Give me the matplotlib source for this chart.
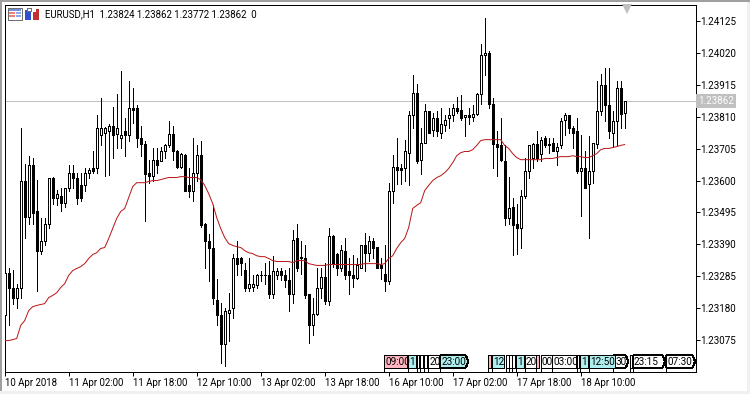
import matplotlib
matplotlib.use('Agg')
from matplotlib import pyplot as plt
from matplotlib.patches import Rectangle, Polygon

# prices in points (1.23824 -> 123824), one per H1 bar
opens = [123155, 123296, 123247, 123214, 123247, 123597, 123481, 123650, 123498, 123369, 123399, 123458, 123607, 123541, 123550, 123527,
         123574, 123626, 123610, 123584, 123584, 123626, 123640, 123640, 123752, 123758, 123765, 123781, 123755, 123742, 123765, 123752,
         123841, 123841, 123742, 123722, 123626, 123616, 123669, 123666, 123699, 123716, 123755, 123699, 123646, 123686, 123584, 123564,
         123626, 123686, 123458, 123399, 123376, 123207, 123155, 123062, 123164, 123178, 123343, 123343, 123306, 123244, 123250, 123254,
         123290, 123290, 123287, 123227, 123290, 123300, 123290, 123273, 123227, 123409, 123349, 123346, 123227, 123122, 123161, 123244,
         123283, 123204, 123418, 123359, 123313, 123369, 123303, 123290, 123280, 123313, 123389, 123362, 123402, 123382, 123320, 123293,
         123267, 123564, 123646, 123643, 123643, 123692, 123815, 123890, 123669, 123725, 123828, 123768, 123808, 123758, 123785, 123805,
         123818, 123838, 123834, 123811, 123815, 123811, 123821, 123887, 124016, 124022, 123854, 123722, 123716, 123666, 123475, 123514,
         123458, 123445, 123550, 123630, 123676, 123722, 123689, 123739, 123722, 123725, 123699, 123716, 123801, 123818, 123775, 123765,
         123630, 123640, 123590, 123633, 123722, 123828, 123917, 123851, 123758, 123798, 123904, 123824]
highs = [123303, 123310, 123306, 123260, 123775, 123656, 123682, 123673, 123603, 123478, 123475, 123610, 123613, 123570, 123577, 123577,
         123650, 123653, 123626, 123626, 123640, 123643, 123699, 123815, 123874, 123778, 123788, 123844, 123887, 123963, 123805, 123930,
         123907, 123851, 123781, 123732, 123669, 123709, 123706, 123712, 123722, 123798, 123781, 123702, 123692, 123689, 123640, 123739,
         123719, 123732, 123461, 123425, 123518, 123276, 123197, 123178, 123230, 123359, 123402, 123349, 123329, 123343, 123287, 123293,
         123300, 123329, 123336, 123352, 123310, 123310, 123306, 123310, 123438, 123458, 123399, 123389, 123227, 123211, 123310, 123313,
         123329, 123442, 123422, 123362, 123386, 123409, 123343, 123356, 123343, 123389, 123428, 123418, 123409, 123382, 123343, 123386,
         123593, 123686, 123739, 123656, 123735, 123831, 123947, 123920, 123772, 123854, 123831, 123824, 123828, 123841, 123815, 123841,
         123854, 123877, 123881, 123815, 123841, 123848, 123890, 124052, 124138, 124029, 123871, 123765, 123808, 123716, 123613, 123544,
         123524, 123570, 123673, 123719, 123725, 123765, 123745, 123748, 123739, 123742, 123725, 123808, 123824, 123818, 123781, 123808,
         123752, 123699, 123748, 123725, 123927, 123953, 123973, 123973, 123828, 123930, 123930, 123862]
lows = [123131, 123122, 123194, 123181, 123211, 123409, 123458, 123458, 123237, 123359, 123386, 123442, 123524, 123518, 123498, 123514,
        123567, 123577, 123524, 123534, 123567, 123610, 123626, 123626, 123716, 123616, 123620, 123676, 123706, 123706, 123682, 123732,
        123791, 123712, 123682, 123465, 123593, 123600, 123626, 123663, 123673, 123712, 123669, 123643, 123643, 123567, 123547, 123531,
        123600, 123448, 123310, 123270, 123194, 123122, 122999, 122989, 123072, 123148, 123287, 123290, 123237, 123237, 123234, 123247,
        123267, 123260, 123214, 123214, 123276, 123273, 123250, 123171, 123197, 123303, 123293, 123214, 123065, 123089, 123155, 123211,
        123194, 123188, 123316, 123287, 123303, 123276, 123227, 123250, 123276, 123310, 123303, 123336, 123343, 123310, 123276, 123237,
        123260, 123527, 123590, 123590, 123600, 123584, 123772, 123659, 123623, 123725, 123758, 123748, 123748, 123742, 123765, 123772,
        123798, 123824, 123801, 123748, 123788, 123798, 123815, 123854, 123947, 123838, 123643, 123616, 123666, 123452, 123458, 123356,
        123359, 123379, 123544, 123607, 123643, 123666, 123663, 123712, 123692, 123696, 123650, 123709, 123752, 123758, 123706, 123626,
        123484, 123577, 123412, 123593, 123709, 123815, 123798, 123742, 123712, 123719, 123772, 123772]
closes = [123296, 123244, 123214, 123247, 123600, 123481, 123650, 123494, 123369, 123402, 123458, 123607, 123541, 123557, 123527, 123574,
          123626, 123607, 123541, 123541, 123626, 123636, 123633, 123772, 123775, 123772, 123781, 123752, 123772, 123752, 123752, 123838,
          123834, 123742, 123722, 123623, 123616, 123669, 123653, 123699, 123719, 123755, 123699, 123646, 123689, 123567, 123564, 123626,
          123686, 123455, 123399, 123376, 123211, 123155, 123062, 123168, 123174, 123343, 123326, 123329, 123244, 123260, 123260, 123287,
          123287, 123287, 123227, 123300, 123300, 123287, 123273, 123227, 123405, 123310, 123343, 123221, 123122, 123161, 123244, 123283,
          123204, 123418, 123329, 123313, 123372, 123287, 123287, 123280, 123320, 123389, 123362, 123402, 123379, 123310, 123310, 123267,
          123567, 123646, 123636, 123636, 123696, 123815, 123890, 123666, 123725, 123828, 123758, 123808, 123765, 123788, 123801, 123815,
          123841, 123831, 123808, 123815, 123811, 123821, 123887, 124016, 124022, 123854, 123722, 123712, 123669, 123475, 123511, 123455,
          123445, 123550, 123630, 123716, 123722, 123676, 123735, 123719, 123719, 123699, 123712, 123798, 123818, 123775, 123758, 123630,
          123640, 123577, 123633, 123725, 123828, 123917, 123851, 123765, 123798, 123904, 123821, 123862]
# red moving average
ma = [123072, 123072, 123075, 123079, 123122, 123138, 123171, 123184, 123188, 123191, 123194, 123214, 123221, 123230, 123247, 123260,
      123287, 123303, 123310, 123316, 123326, 123343, 123356, 123362, 123376, 123379, 123409, 123442, 123475, 123498, 123508, 123544,
      123580, 123593, 123593, 123593, 123597, 123600, 123600, 123603, 123607, 123610, 123610, 123610, 123613, 123613, 123610, 123610,
      123610, 123603, 123584, 123557, 123524, 123478, 123442, 123412, 123392, 123386, 123382, 123379, 123369, 123362, 123359, 123352,
      123349, 123349, 123343, 123336, 123333, 123333, 123333, 123333, 123329, 123336, 123336, 123336, 123326, 123323, 123320, 123320,
      123320, 123323, 123323, 123323, 123323, 123323, 123323, 123323, 123323, 123323, 123326, 123326, 123326, 123326, 123323, 123326,
      123343, 123352, 123376, 123395, 123409, 123445, 123508, 123518, 123527, 123567, 123584, 123600, 123610, 123616, 123626, 123640,
      123659, 123682, 123692, 123696, 123696, 123702, 123716, 123732, 123735, 123735, 123735, 123735, 123735, 123716, 123706, 123689,
      123676, 123669, 123669, 123669, 123669, 123669, 123669, 123673, 123673, 123673, 123676, 123679, 123679, 123679, 123682, 123679,
      123679, 123676, 123676, 123682, 123689, 123702, 123706, 123706, 123709, 123712, 123716, 123719]

last_price = 123862
header = 'EURUSD,H1  1.23824 1.23862 1.23772 1.23862  0'

y_ticks = [124125, 124020, 123915, 123810, 123705, 123600, 123495, 123390, 123285, 123180, 123075]
x_tick_bars = [0, 16, 32, 48, 64, 80, 96, 112, 128, 144]
x_tick_labels = ['10 Apr 2018', '11 Apr 02:00', '11 Apr 18:00', '12 Apr 10:00', '13 Apr 02:00',
                 '13 Apr 18:00', '16 Apr 10:00', '17 Apr 02:00', '17 Apr 18:00', '18 Apr 10:00']

# trade flags along the bottom: first bar, last bar, colour key, text, arrow end
flag_start = [94.9, 100.9, 103.1, 103.9, 104.9, 105.9, 108.9, 120.9, 121.9, 125.4, 126.1, 126.9, 127.9, 130.1, 132.9,
              134.1, 136.9, 143.1, 143.9, 152.1, 146.1, 156.4, 157.1, 165.4]
flag_end = [100.6, 102.9, 103.6, 104.6, 105.6, 108.9, 115.9, 121.6, 124.9, 126.1, 126.9, 127.6, 129.9, 132.9, 133.6,
            136.9, 142.9, 143.6, 145.9, 155.9, 152.6, 157.1, 165.1, 172.6]
flag_kind = ['p', 'c', 'w', 'w', 'w', 'w', 'c', 'p', 'c', 'w', 'w', 'w', 'c', 'w', 'p',
             'w', 'w', 'w', 'c', 'w', 'c', 'w', 'w', 'w']
flag_text = ['09:00', '1', '', '', '', '20', '23:00', '', '12', '', '', '', '1', '20', '',
             '00', '03:00', '', '1', '30', '12:50', '', '23:15', '07:30']
flag_arrow = [0, 0, 0, 0, 0, 0, 1, 0, 0, 0, 0, 0, 0, 0, 0,
              0, 0, 0, 0, 1, 0, 0, 1, 1]
flag_colors = {'p': '#ffb6c1', 'c': '#afeeee', 'w': '#ffffff'}

plt.rcParams['font.family'] = ['Roboto', 'DejaVu Sans']
plt.rcParams['font.size'] = 7.1

W, H = 750, 394
fig = plt.figure(figsize=(W / 100, H / 100), dpi=100, facecolor='white')
ax = fig.add_axes([4.5 / W, 1 - 371.5 / H, 691 / W, 367 / H])

bars = list(range(len(opens)))
top_price = 124181
bottom_price = 122970
ax.set_xlim(-0.05, 172.7)
ax.set_ylim(bottom_price, top_price)

lw = 0.72
ax.axhline(last_price, color='#c0c0c0', lw=lw, zorder=1, antialiased=False)

ax.vlines(bars, lows, highs, color='black', lw=lw, zorder=2, antialiased=False)
for x, o, c in zip(bars, opens, closes):
    ax.add_patch(Rectangle((x - 0.25, min(o, c)), 0.5, max(abs(c - o), 1),
                           facecolor='white' if c >= o else 'black', edgecolor='black',
                           lw=lw, zorder=3, antialiased=False))

ax.plot(bars, ma, color='#b81818', lw=0.72, zorder=4, antialiased=True)

# flags
fy0 = 122983
fy1 = 123023
for s, e, k, t, a in zip(flag_start, flag_end, flag_kind, flag_text, flag_arrow):
    if a:
        pts = [(s, fy0), (s, fy1), (e - 0.6, fy1), (e, (fy0 + fy1) / 2), (e - 0.6, fy0)]
    else:
        pts = [(s, fy0), (s, fy1), (e, fy1), (e, fy0)]
    poly = Polygon(pts, closed=True, facecolor=flag_colors[k], edgecolor='black', lw=lw,
                   zorder=5, antialiased=False)
    ax.add_patch(poly)
    ax.vlines(s, bottom_price, fy0, color='black', lw=lw, zorder=5, antialiased=False)
    if t:
        tx = s + 0.2
        if t == '30':
            tx = 152.7
        txt = ax.text(tx, (fy0 + fy1) / 2 - 2, t, fontsize=7.2, va='center', ha='left', zorder=6, clip_on=True)
        txt.set_clip_path(poly)

ax.plot([155.6], [124165], marker='v', ms=6.5, color='#c0c0c0', mew=0, clip_on=False, zorder=5)

ax.set_yticks(y_ticks)
ax.set_yticklabels(['%.5f' % (v / 1e5) for v in y_ticks])
ax.yaxis.tick_right()
ax.set_xticks(x_tick_bars)
ax.set_xticklabels(x_tick_labels, ha='left', fontsize=6.9)
ax.tick_params(axis='both', length=3, width=lw, colors='black')
ax.tick_params(axis='y', pad=0.5)
ax.tick_params(axis='x', pad=2)
for side in ax.spines:
    ax.spines[side].set_linewidth(lw)
    ax.spines[side].set_antialiased(False)

ax.text(1.004, last_price, '%.5f' % (last_price / 1e5), color='white', va='center', ha='left',
        transform=ax.get_yaxis_transform(), zorder=7,
        bbox=dict(facecolor='#c0c0c0', edgecolor='none', pad=1.4))

fig.text(45 / W, 1 - 14.5 / H, header, fontsize=6.9, va='center', ha='left')

# window edges and the small toolbar icons
def px_rect(x, y, w, h, fc, ec='none'):
    fig.add_artist(Rectangle((x / W, 1 - (y + h) / H), w / W, h / H, facecolor=fc, edgecolor=ec, lw=0.7,
                             transform=fig.transFigure, antialiased=False))

px_rect(0, 0, W, 2, '#a0a0a0')
px_rect(0, 0, 2, H, '#a0a0a0')
px_rect(747, 2, 3, H, '#f0f0f0')
px_rect(0, 391, W, 3, '#f0f0f0')
px_rect(8, 8, 14, 12, '#ffffff', '#707070')
px_rect(9, 9, 12, 2, '#7090e0')
px_rect(9, 12, 6, 2, '#f08070')
px_rect(9, 15, 6, 2, '#f08070')
px_rect(16, 12, 5, 2, '#8fa8e8')
px_rect(16, 15, 5, 2, '#8fa8e8')
px_rect(25, 10, 6, 10, '#3050d0')
px_rect(27, 8, 4, 3, '#ffffff', '#707070')
px_rect(33, 12, 6, 8, '#c03030')
px_rect(36, 9, 3, 3, '#c03030')

fig.savefig('out.png', dpi=100)
